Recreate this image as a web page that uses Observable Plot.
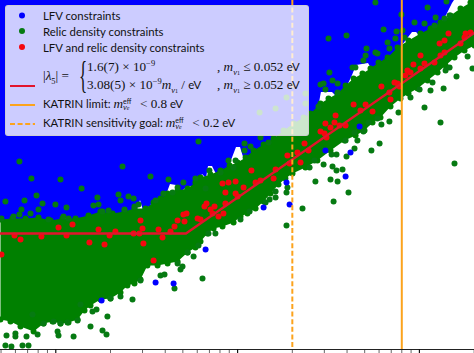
<!DOCTYPE html>
<html><head><meta charset="utf-8">
<script src="https://cdn.jsdelivr.net/npm/d3@7"></script>
<script src="https://cdn.jsdelivr.net/npm/@observablehq/plot@0.6"></script>
<style>
html,body{margin:0;padding:0;background:#fff}
#wrap{position:relative;width:474px;height:353px;overflow:hidden}
#wrap svg.plot{display:block}
#legend{position:absolute;left:5px;top:5px;width:302px;height:129px;background:rgba(255,255,255,.8);border:1px solid rgba(204,204,204,.8);border-radius:3px;color:#111;font:11.4px Lato,sans-serif}
#legend div{position:absolute;white-space:nowrap;line-height:14px}
#legend .m{font-family:"Liberation Serif",serif;font-size:13.2px}
#legend sup,#legend sub{font-size:8.5px;line-height:0}
#legend svg{position:absolute;left:0;top:0}
</style></head><body>
<div id="wrap"><div id="legend"></div></div>
<script>
// All positions are log10 values: log10(m / eV) and log10(|lambda5|).
const xDomainExp = [-2.304, 0.303];
const yDomainExp = [-9.712, -6.955];

const blueEdgeM = [-2.304,-1.974,-1.947,-1.919,-1.699,-1.683,-1.655,-1.617,-1.6,-1.578,-1.556,-1.534,-1.518,-1.479,-1.462,-1.44,-1.396,-1.369,-1.336,-1.314,-1.27,-1.242,-1.22,-1.193,-1.171,-1.16,-1.138,-1.116,-1.05,-1.006,-0.984,-0.962,-0.885,-0.808,-0.78,-0.654,-0.555,-0.539,-0.478,-0.456,-0.406,-0.368,-0.346,-0.28,-0.258,-0.187,-0.115,-0.038,-0.016,0.006,0.116,0.149,0.182,0.193];
const blueEdgeL = [-8.701,-8.701,-8.661,-8.701,-8.685,-8.638,-8.677,-8.669,-8.622,-8.654,-8.63,-8.535,-8.614,-8.582,-8.543,-8.559,-8.511,-8.409,-8.417,-8.472,-8.424,-8.424,-8.409,-8.33,-8.361,-8.266,-8.266,-8.33,-8.282,-8.116,-8.116,-8.219,-8.14,-8.061,-8.029,-7.943,-7.808,-7.682,-7.682,-7.713,-7.666,-7.548,-7.469,-7.453,-7.508,-7.429,-7.35,-7.208,-7.208,-7.239,-7.145,-7.074,-6.979,-6.955];

const greenTopM = [-2.304,-2.238,-2.166,-2.095,-2.029,-1.963,-1.891,-1.82,-1.754,-1.688,-1.622,-1.567,-1.506,-1.462,-1.424,-1.385,-1.33,-1.275,-1.232,-1.204,-1.149,-1.094,-1.044,-1.0,-0.956,-0.912,-0.857,-0.802,-0.747,-0.692,-0.637,-0.599,-0.544,-0.5,-0.45,-0.406,-0.362,-0.313,-0.269,-0.225,-0.175,-0.12,-0.06,0.006,0.061,0.116,0.171,0.226,0.281,0.303];
const greenTopL = [-8.685,-8.677,-8.677,-8.669,-8.693,-8.677,-8.677,-8.654,-8.622,-8.638,-8.622,-8.598,-8.598,-8.551,-8.519,-8.48,-8.456,-8.44,-8.393,-8.353,-8.33,-8.298,-8.259,-8.235,-8.195,-8.14,-8.093,-8.045,-7.982,-7.927,-7.879,-7.848,-7.769,-7.729,-7.69,-7.627,-7.571,-7.532,-7.492,-7.445,-7.405,-7.326,-7.271,-7.216,-7.176,-7.129,-7.074,-7.018,-6.971,-6.955];

const greenLowM = [-2.304,-2.249,-2.194,-2.122,-2.067,-2.018,-1.974,-1.93,-1.88,-1.842,-1.809,-1.754,-1.699,-1.644,-1.606,-1.567,-1.534,-1.496,-1.44,-1.385,-1.33,-1.275,-1.232,-1.204,-1.166,-1.132,-1.083,-1.022,-0.984,-0.946,-0.901,-0.857,-0.819,-0.775,-0.737,-0.698,-0.627,-0.561,-0.489,-0.412,-0.351,-0.302,-0.258,-0.214,-0.159,-0.104,-0.06,-0.01,0.045,0.1,0.144,0.193,0.248,0.303];
const greenLowL = [-9.475,-9.491,-9.53,-9.57,-9.507,-9.491,-9.507,-9.499,-9.475,-9.404,-9.365,-9.317,-9.309,-9.262,-9.207,-9.191,-9.159,-9.049,-9.049,-9.033,-9.017,-8.946,-8.906,-8.859,-8.796,-8.756,-8.74,-8.709,-8.661,-8.638,-8.598,-8.543,-8.48,-8.409,-8.361,-8.322,-8.274,-8.219,-8.14,-8.061,-8.022,-7.982,-7.919,-7.879,-7.792,-7.729,-7.69,-7.65,-7.587,-7.524,-7.469,-7.405,-7.35,-7.311];

const greenBelowM = [-2.277,-2.244,-2.183,-2.15,-2.271,-2.222,-2.222,-2.161,-2.1,-1.985,-1.99,-1.902,-1.809,-1.743,-1.721,-1.716,-1.88,-1.936,-2.128,-2.067,-2.012,-1.974,-1.798,-1.776,-1.864,-1.644,-1.578,-1.699,-1.534,-1.424,-1.402,-1.347,-1.193,-1.303,-1.314,-1.33,-1.275,-1.242,-1.215,-1.16,-1.122,
 -0.572,-0.489,-0.45,-0.39,-0.472,-0.643,-0.731,-0.934,-0.984,-0.726,-0.731,-0.791,-0.824,-0.846,-0.791,
 0.193,0.116,0.028,0.133,0.061,0.072,0.204,0.265,0.292,0.166,0.144,0.001,-0.049,-0.115,-0.165,-0.209,-0.231,-0.28,-0.308,-0.357,-0.357,-0.341,-0.406,-0.219,-0.264,-0.401,-0.456,-0.483,-0.527,-0.478,-0.456,-0.423,-0.604,-0.577];
const greenBelowL = [-9.681,-9.689,-9.681,-9.681,-9.602,-9.609,-9.586,-9.609,-9.594,-9.602,-9.57,-9.609,-9.53,-9.562,-9.594,-9.451,-9.483,-9.499,-9.436,-9.507,-9.491,-9.507,-9.412,-9.396,-9.357,-9.293,-9.317,-9.309,-9.167,-9.128,-9.12,-9.23,-9.151,-9.056,-9.08,-9.033,-8.946,-8.977,-8.891,-8.796,-8.796,
 -8.385,-8.369,-8.385,-8.472,-8.543,-8.598,-8.733,-8.622,-8.685,-8.432,-8.472,-8.511,-8.527,-8.551,-8.464,
 -8.243,-7.919,-7.8,-7.65,-7.666,-7.603,-7.555,-7.397,-7.492,-7.484,-7.508,-7.658,-7.721,-7.84,-7.911,-7.935,-7.887,-7.919,-7.99,-7.998,-8.124,-8.061,-8.061,-8.085,-8.14,-8.187,-8.172,-8.172,-8.251,-8.266,-8.298,-8.29,-8.274,-8.219];

const greenAboveM = [-0.242,0.045,0.149,-0.099,-0.027,0.028,0.083,0.089,0.138,0.166,-0.197,-0.126,-0.093,-0.401,-0.5,-0.132,-0.175,-0.165,-0.082,-0.291,-0.296,-0.242,-0.231,-0.308,-0.368,-0.352,-0.495,-0.527,-0.544,-0.478,-0.45,-0.517,-0.45,-0.555,
 -0.791,-0.879,-0.731,-0.627,-0.627,-0.962,-0.929,-0.83,-0.962,-0.874,
 -1.215,-2.2,-1.633,-1.479,-1.155,-1.094,-1.05,-1.011,-1.022,
 -2.134,-1.974,-1.858,-2.277,-2.172,-2.106,-2.073,-2.002,-1.941,-2.189,-2.095,-2.2,-2.139,-2.233,-2.299,-2.04,-1.958,-1.93,-1.771,-1.765,-1.793,-1.743,-1.71,-1.655,-1.644,-1.6,-1.572,-1.622,-1.567,-1.545,-1.408,-1.38,-1.298,-1.33,-1.232,-1.176,-1.358,-1.451];
const greenAboveL = [-6.971,-7.01,-6.963,-7.066,-7.129,-7.137,-7.153,-7.089,-7.097,-7.074,-7.184,-7.2,-7.192,-7.232,-7.255,-7.255,-7.287,-7.334,-7.247,-7.334,-7.39,-7.366,-7.374,-7.429,-7.484,-7.484,-7.524,-7.611,-7.619,-7.587,-7.611,-7.658,-7.682,-7.792,
 -7.808,-7.84,-7.721,-7.69,-7.769,-8.085,-8.108,-8.077,-8.14,-8.037,
 -8.069,-8.227,-8.266,-8.345,-8.298,-8.314,-8.219,-8.219,-8.274,
 -8.361,-8.369,-8.44,-8.543,-8.535,-8.496,-8.559,-8.567,-8.59,-8.606,-8.606,-8.646,-8.638,-8.661,-8.677,-8.685,-8.661,-8.677,-8.511,-8.567,-8.575,-8.622,-8.614,-8.488,-8.535,-8.503,-8.519,-8.606,-8.582,-8.567,-8.48,-8.369,-8.393,-8.432,-8.361,-8.44,-8.472,-8.535];

const blueM = [-1.451,-1.352,-1.176,-1.748,-0.731,-0.714,-0.857,-0.406,-0.517,-0.379,-0.329];
const blueL = [-9.183,-9.191,-8.922,-9.325,-8.393,-8.567,-8.59,-8.345,-8.14,-8.156,-7.95];

const redM = [-2.299,-2.227,-2.194,-2.079,-1.985,-1.941,-1.908,-1.815,-1.765,-1.732,-1.704,-1.672,-1.572,-1.534,-1.523,-1.54,-1.518,-1.435,-1.413,-1.462,-1.369,-1.347,-1.33,-1.298,-1.281,-1.292,-1.22,-1.204,-1.171,-1.182,-1.149,-1.127,-1.138,-1.105,-1.078,-1.067,-1.083,-1.05,-1.011,-1.067,-1.011,-1,-0.967,-0.924,-0.901,-0.874,-0.802,-0.791,-0.726,-0.714,-0.671,-0.654,-0.632,-0.61,-0.544,-0.522,-0.517,-0.511,-0.489,-0.461,-0.467,-0.439,-0.406,-0.362,-0.324,-0.296,-0.258,-0.209,-0.165,-0.159,-0.137,-0.12,-0.109,-0.066,-0.049,-0.077,-0.033,0.006,0.006,0.028,0.083,0.111,0.138,0.116,0.138,0.16,0.226,0.248,0.254,0.281];
const redL = [-8.962,-8.812,-8.843,-8.819,-8.748,-8.812,-8.725,-8.867,-8.764,-8.883,-8.812,-8.78,-8.796,-8.693,-8.756,-8.796,-8.875,-8.764,-8.827,-9.009,-8.78,-8.74,-8.693,-8.646,-8.638,-8.701,-8.677,-8.685,-8.559,-8.582,-8.606,-8.582,-8.638,-8.661,-8.638,-8.559,-8.401,-8.393,-8.385,-8.472,-8.48,-8.503,-8.432,-8.298,-8.393,-8.377,-8.361,-8.29,-8.18,-8.243,-8.156,-8.235,-8.085,-8.14,-7.99,-8.006,-7.927,-8.037,-7.958,-7.864,-7.919,-7.943,-7.943,-7.777,-7.824,-7.777,-7.832,-7.634,-7.682,-7.737,-7.603,-7.611,-7.634,-7.508,-7.524,-7.548,-7.461,-7.39,-7.492,-7.453,-7.445,-7.295,-7.366,-7.39,-7.271,-7.216,-7.295,-7.247,-7.216,-7.208];

const fitM = [-2.304,-1.284,0.303];
const fitL = [-8.796,-8.796,-7.209];

const katrinLimit = [0.8];
const katrinGoal = [0.2];
const majorTicks = [0.01,0.1,1];
const minorTicks = [0.005,0.006,0.007,0.008,0.009,0.02,0.03,0.04,0.05,0.06,0.07,0.08,0.09,0.2,0.3,0.4,0.5,0.6,0.7,0.8,0.9,2];

const pts = (a,b) => a.map((e,i) => ({m:10**e, l:10**b[i]}));
const yTop = 10**yDomainExp[1];
const ring = pts(greenTopM,greenTopL).concat(pts(greenLowM,greenLowL).reverse());
const dotOpts = (fill) => ({x:"m", y:"l", r:3, fill, clip:true});
const GREEN = "#067a12", BLUE = "#0000ff", RED = "#f5070f", ORANGE = "#fca31c", LINE = "#e2142c";

const chart = Plot.plot({
  width:474, height:353, marginTop:0, marginBottom:4, marginLeft:0, marginRight:0,
  style:{background:"#fff"},
  x:{type:"log", domain:xDomainExp.map(e=>10**e), range:[0,474], axis:null},
  y:{type:"log", domain:yDomainExp.map(e=>10**e), range:[349,0], axis:null},
  marks:[
    Plot.areaY(pts(blueEdgeM,blueEdgeL),{x:"m", y1:"l", y2:()=>yTop, fill:BLUE, clip:true}),
    Plot.line(ring,{x:"m", y:"l", fill:"#008000", stroke:"none", clip:true}),
    Plot.dot(pts(greenTopM,greenTopL),dotOpts("#008000")),
    Plot.dot(pts(greenLowM,greenLowL),dotOpts("#008000")),
    Plot.dot(pts(greenAboveM,greenAboveL),dotOpts(GREEN)),
    Plot.dot(pts(greenBelowM,greenBelowL),dotOpts(GREEN)),
    Plot.dot(pts(blueM,blueL),dotOpts(BLUE)),
    Plot.dot(pts(redM,redL),dotOpts(RED)),
    Plot.line(pts(fitM,fitL),{x:"m", y:"l", stroke:LINE, strokeWidth:2.4, clip:true}),
    Plot.ruleX(katrinLimit,{stroke:ORANGE, strokeWidth:2}),
    Plot.ruleX(katrinGoal,{stroke:ORANGE, strokeWidth:2, strokeDasharray:"5,2.6"}),
    Plot.ruleY([10**yDomainExp[0]],{stroke:"#222", strokeWidth:1}),
    Plot.axisX(minorTicks,{anchor:"bottom", tickSize:4, fill:"none", strokeWidth:0.7, stroke:"#222", label:null}),
    Plot.axisX(majorTicks,{anchor:"bottom", tickSize:4, fill:"none", strokeWidth:1.2, stroke:"#111", label:null})
  ]
});
document.getElementById("wrap").prepend(chart);

const nu1 = '<i>m</i><sub><i>ν</i><span style="font-size:6px">1</span></sub>';
const nue = '<i style="font-family:\'Liberation Serif\',serif;font-size:13.2px">m</i><span style="display:inline-block;position:relative;width:13px"><span style="position:absolute;left:0;top:-14px;font-size:7px">eff</span><i style="position:absolute;left:0;top:-8px;font:italic 8.5px/14px \'Liberation Serif\',serif">ν<span style="font-size:6px">e</span></i></span>';
const swatches = `<svg width="302" height="129">
<circle cx="16" cy="9.5" r="3" fill="${BLUE}"/><circle cx="16" cy="25" r="3" fill="${GREEN}"/><circle cx="16" cy="41" r="3" fill="${RED}"/>
<line x1="4" x2="29" y1="80" y2="80" stroke="${LINE}" stroke-width="2"/>
<line x1="4" x2="29" y1="99" y2="99" stroke="${ORANGE}" stroke-width="2"/>
<line x1="4" x2="29" y1="118" y2="118" stroke="${ORANGE}" stroke-width="2" stroke-dasharray="5,2.6"/></svg>`;
document.getElementById("legend").innerHTML = swatches + `
<div style="left:37px;top:3px">LFV constraints</div>
<div style="left:37px;top:19px">Relic density constraints</div>
<div style="left:37px;top:35px">LFV and relic density constraints</div>
<div class="m" style="left:37px;top:63px">|<i>λ</i><sub>5</sub>| =</div>
<div class="m" style="left:73px;top:49px;line-height:40px;font-size:38px;transform:scaleX(.45);transform-origin:left">{</div>
<div class="m" style="left:81px;top:54px">1.6(7) × 10<sup>−9</sup></div>
<div class="m" style="left:81px;top:72px">3.08(5) × 10<sup>−9</sup>${nu1} / <span style="font:11.4px Lato">eV</span></div>
<div class="m" style="left:211px;top:54px">, ${nu1} ≤ 0.052 <span style="font:11.4px Lato">eV</span></div>
<div class="m" style="left:211px;top:72px">, ${nu1} ≥ 0.052 <span style="font:11.4px Lato">eV</span></div>
<div style="left:37px;top:91px">KATRIN limit: ${nue} <span class="m" style="margin-left:1px">&lt; 0.8</span> eV</div>
<div style="left:37px;top:110px">KATRIN sensitivity goal: ${nue} <span class="m" style="margin-left:1px">&lt; 0.2</span> eV</div>`;
</script>
</body></html>
